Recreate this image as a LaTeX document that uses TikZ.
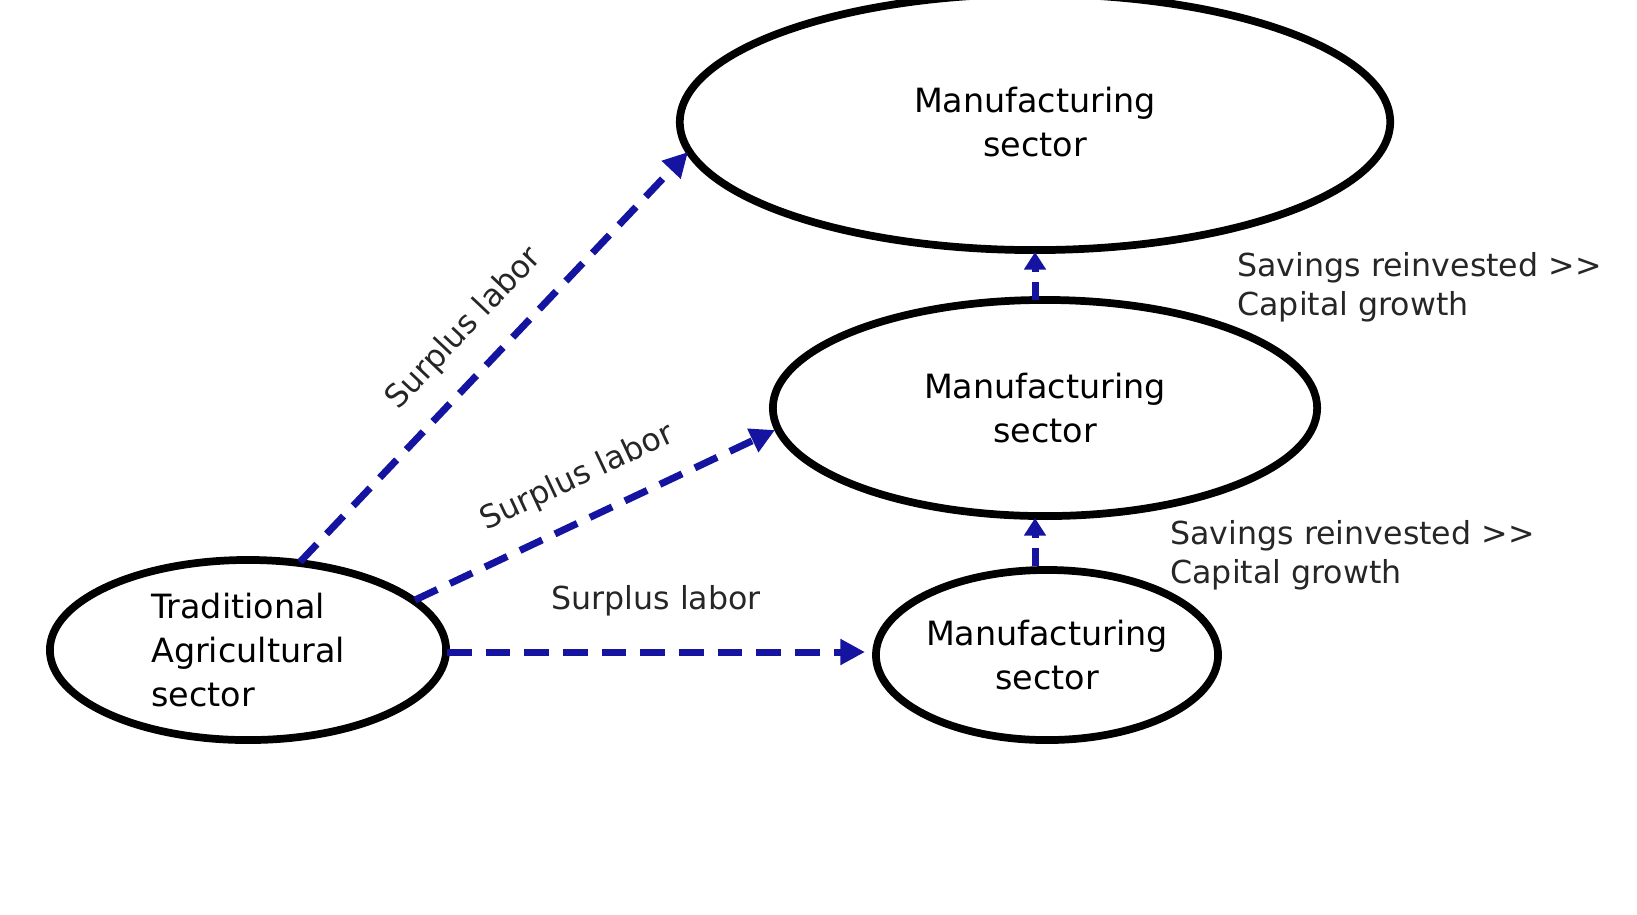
\documentclass[tikz,border=0pt]{standalone}
\usepackage{fontspec}
\setmainfont{DejaVu Sans}
\usetikzlibrary{shapes.geometric,arrows.meta}
\begin{document}
\begin{tikzpicture}[x=0.01cm,y=-0.01cm,
  sector/.style={ellipse,draw,line width=2.2pt,inner sep=0pt,font=\fontsize{9.5}{12.5}\selectfont,align=center},
  flow/.style={draw={rgb,255:red,20;green,20;blue,160},line width=2pt,dash pattern=on 7pt off 4pt,-{Triangle[length=7pt,width=7pt]}},
  lbl/.style={font=\fontsize{9}{11}\selectfont,text=black!85}]
\useasboundingbox (0,0) rectangle (1637,914);
\node[sector,minimum width=7.1cm,minimum height=2.56cm] (top) at (1035,122) {Manufacturing\\sector};
\node[sector,minimum width=5.44cm,minimum height=2.16cm] (mid) at (1045,408) {Manufacturing\\sector};
\node[sector,minimum width=3.4cm,minimum height=1.7cm] (bot) at (1047,655) {Manufacturing\\sector};
\node[sector,align=left,minimum width=3.96cm,minimum height=1.8cm] (agr) at (248,650) {Traditional\\Agricultural\\sector};
\coordinate (a1) at (300,562); \coordinate (t1) at (688,152);
\coordinate (a2) at (415,600); \coordinate (m1) at (775,430);
\coordinate (a3) at (447,652); \coordinate (b1) at (865,652);
\draw[flow] (a1) -- node[lbl,sloped,above=3pt]{Surplus labor} (t1);
\draw[flow] (a2) -- node[lbl,sloped,above=3pt]{Surplus labor} (m1);
\draw[flow] (a3) -- node[lbl,above=6pt]{Surplus labor} (b1);
\draw[flow,dash pattern=on 5pt off 3pt,-{Triangle[length=5pt,width=6pt]}] (1035,300) -- (1035,252);
\draw[flow,dash pattern=on 5pt off 3pt,-{Triangle[length=5pt,width=6pt]}] (1035,566) -- (1035,518);
\node[lbl,anchor=west,align=left] (s1) at (1225,287) {Savings reinvested >{}>\\Capital growth};
\node[lbl,anchor=west,align=left] (s2) at (1158,555) {Savings reinvested >{}>\\Capital growth};
\end{tikzpicture}
\end{document}
